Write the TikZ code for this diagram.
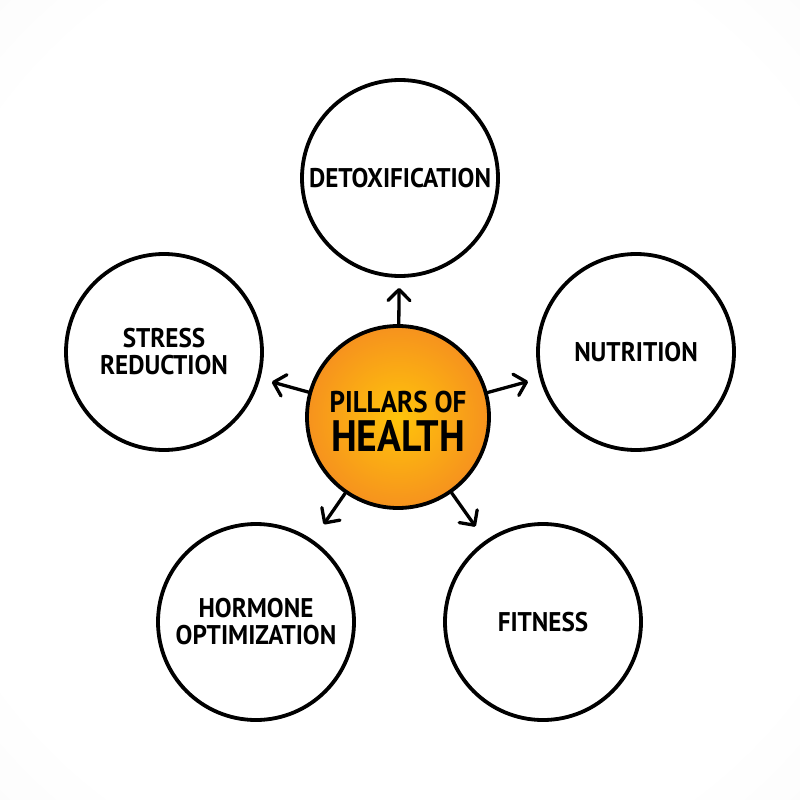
\documentclass[tikz,border=0pt]{standalone}
\usepackage{fontspec}
\usepackage{graphicx}
\setmainfont{PT Sans}
\usetikzlibrary{arrows.meta}
\definecolor{hubin}{RGB}{255,196,10}
\definecolor{hubout}{RGB}{246,146,30}
\pgfdeclareradialshading{vignette}{\pgfpoint{0bp}{0bp}}{color(0bp)=(white); color(30bp)=(white); color(50bp)=(black!4); color(72bp)=(black!9)}
\newcommand\hand[1]{\scalebox{0.93}[1]{\begin{tabular}{@{}c@{}}\rule{0pt}{26pt}#1\end{tabular}}}
\begin{document}
\begin{tikzpicture}[x=1pt,y=-1pt,
  bubble/.style={circle,draw=black,line width=3.8pt,minimum size=196pt,inner sep=0pt,align=center,
    font=\bfseries\fontsize{27}{26}\selectfont},
  hub/.style={circle,draw=black,line width=3.8pt,minimum size=182pt,inner sep=0pt,align=center,
    inner color=hubin,outer color=hubout,font=\bfseries},
  arr/.style={line width=3.3pt,line cap=round,-{Straight Barb[length=11pt,width=22pt,line cap=round,line join=round]}}]
\useasboundingbox (0,0) rectangle (800,800);
\shade[shading=vignette] (0,0) rectangle (800,800);
\node[hub] (c) at (398,417) {\scalebox{0.9}[1]{\begin{tabular}{@{}c@{}}\rule{0pt}{34pt}\fontsize{30}{30}\selectfont PILLARS OF\\[4pt]\fontsize{44}{40}\selectfont HEALTH\end{tabular}}};
\node[bubble] (top) at (400,178) {\hand{DETOXIFICATION}};
\node[bubble] (left) at (164,352) {\hand{STRESS\\REDUCTION}};
\node[bubble] (right) at (636,352) {\hand{NUTRITION}};
\node[bubble] (bl) at (256,622) {\hand{HORMONE\\OPTIMIZATION}};
\node[bubble] (br) at (543,622) {\hand{FITNESS}};
\draw[arr,shorten >=10pt] (c) -- (top);
\draw[arr,shorten >=12pt] (c) -- (left);
\draw[arr,shorten >=12pt] (c) -- (right);
\draw[arr,shorten >=19pt] (c) -- (bl);
\draw[arr,shorten >=17pt] (c) -- (br);
\end{tikzpicture}
\end{document}
